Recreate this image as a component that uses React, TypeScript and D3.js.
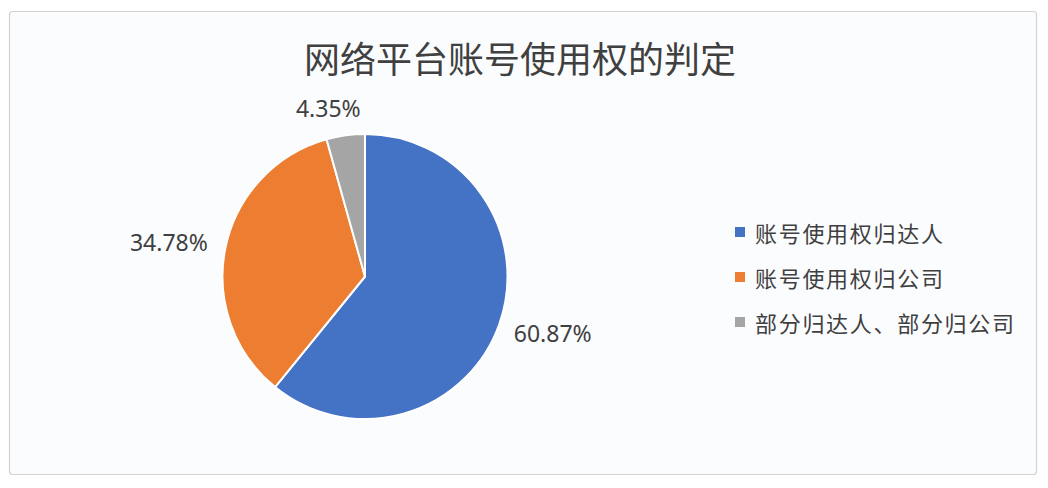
import React from "react";
import * as d3 from "d3";

const title = "网络平台账号使用权的判定";
const categories = ["账号使用权归达人", "账号使用权归公司", "部分归达人、部分归公司"];
const values = [60.87, 34.78, 4.35];
const labels = ["60.87%", "34.78%", "4.35%"];
const colors = ["#4472C4", "#ED7D31", "#A5A5A5"];

const W = 1048;
const H = 488;
const cx = 365;
const cy = 276.5;
const R = 142.5;
const labelFont = 23;

export default function App() {
  const pie = d3.pie<number>().sort(null).value((d) => d);
  const arcs = pie(values);
  const arc = d3.arc<d3.PieArcDatum<number>>().innerRadius(0).outerRadius(R);

  const legendY = d3.scalePoint<string>().domain(categories).range([232, 322]);

  return (
    <svg
      width={W}
      height={H}
      style={{ position: "absolute", left: 0, top: 0, background: "#ffffff" }}
      fontFamily="'Noto Sans CJK SC', 'Noto Sans', sans-serif"
    >
      <rect x={9.5} y={11.5} width={1027} height={463} rx={3} fill="#fbfcfe" stroke="#d2d2d2" strokeWidth={1.2} />
      <text
        x={520}
        y={57}
        textAnchor="middle"
        dominantBaseline="central"
        fontSize={36}
        fill="#404040"
      >
        {title}
      </text>
      <g transform={`translate(${cx},${cy})`}>
        {arcs.map((a, i) => (
          <path key={i} d={arc(a) || ""} fill={colors[i]} stroke="#ffffff" strokeWidth={2} strokeLinejoin="round" />
        ))}
        {arcs.map((a, i) => {
          const mid = (a.startAngle + a.endAngle) / 2;
          const s = Math.sin(mid);
          const c = -Math.cos(mid);
          const w = labels[i].length * labelFont * 0.58;
          const h = 20;
          const rr = 160;
          const x = rr * s + (w / 2) * s - (1 - Math.abs(s)) * 12;
          const y = rr * c + (h / 2) * c;
          return (
            <text
              key={i}
              x={x}
              y={y}
              textAnchor="middle"
              dominantBaseline="central"
              fontFamily="'Noto Sans', sans-serif"
              fontSize={labelFont}
              fill="#404040"
            >
              {labels[i]}
            </text>
          );
        })}
      </g>
      {categories.map((c, i) => {
        const y = legendY(c) as number;
        return (
          <g key={c}>
            <rect x={735} y={y - 5} width={10} height={10} fill={colors[i]} />
            <text
              x={755}
              y={y}
              dominantBaseline="central"
              fontSize={22}
              letterSpacing={1.7}
              fill="#404040"
            >
              {c}
            </text>
          </g>
        );
      })}
    </svg>
  );
}
